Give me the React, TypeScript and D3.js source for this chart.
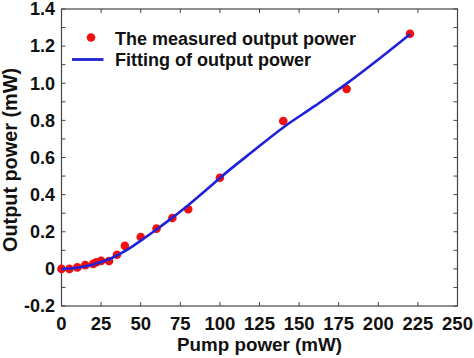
import React from "react";
import * as d3 from "d3";

const measuredX = [0, 5, 10, 15, 20, 22, 25, 30, 35, 40, 50, 60, 70, 80, 100, 140, 180, 220];
const measuredY = [0, 0, 0.008, 0.02, 0.027, 0.036, 0.043, 0.042, 0.076, 0.124, 0.172, 0.217, 0.274, 0.321, 0.491, 0.797, 0.969, 1.267];

const fitX = [0, 10, 15, 20, 25, 30, 35, 40, 50, 60, 70, 80, 90, 100, 120, 140, 160, 180, 200, 220];
const fitY = [0, 0.006, 0.014, 0.024, 0.037, 0.052, 0.072, 0.095, 0.152, 0.212, 0.276, 0.343, 0.415, 0.49, 0.628, 0.762, 0.878, 0.998, 1.128, 1.264];

const xTicks = [0, 25, 50, 75, 100, 125, 150, 175, 200, 225, 250];
const yTicks = [-0.2, 0, 0.2, 0.4, 0.6, 0.8, 1.0, 1.2, 1.4];
const yMinorTicks = [-0.2, -0.1, 0, 0.1, 0.2, 0.3, 0.4, 0.5, 0.6, 0.7, 0.8, 0.9, 1.0, 1.1, 1.2, 1.3, 1.4];

const legendLabels = ["The measured output power", "Fitting of output power"];
const xTitle = "Pump power (mW)";
const yTitle = "Output power (mW)";

export default function App() {
  const W = 474, H = 358;
  const L = 61.5, R = 457.5, T = 9, B = 306;
  const x = d3.scaleLinear().domain([0, 250]).range([L, R]);
  const y = d3.scaleLinear().domain([-0.2, 1.4]).range([B, T]);
  const line = d3.line<number>().x((_, i) => x(fitX[i])).y((d) => y(d)).curve(d3.curveMonotoneX);
  const font = "'Liberation Sans', Arial, sans-serif";
  const fmt = (v: number) => (Math.abs(v) < 1e-9 ? "0" : v.toFixed(1));
  const axisColor = "#444";
  const tl = 4;
  return (
    <svg width={W} height={H} style={{ position: "absolute", left: 0, top: 0, background: "#fff" }}>
      <rect x={0} y={0} width={W} height={H} fill="#fff" />
      {xTicks.map((t) => (
        <g key={"xt" + t}>
          <line x1={x(t)} x2={x(t)} y1={B} y2={B - tl} stroke={axisColor} strokeWidth={1} />
          <line x1={x(t)} x2={x(t)} y1={T} y2={T + tl} stroke={axisColor} strokeWidth={1} />
          <text x={x(t)} y={329.5} textAnchor="middle" fontFamily={font} fontWeight="bold" fontSize={18.5} fill="#111">
            {t}
          </text>
        </g>
      ))}
      {yMinorTicks.map((t) => (
        <g key={"ym" + t}>
          <line x1={L} x2={L + tl} y1={y(t)} y2={y(t)} stroke={axisColor} strokeWidth={1} />
          <line x1={R} x2={R - tl} y1={y(t)} y2={y(t)} stroke={axisColor} strokeWidth={1} />
        </g>
      ))}
      {yTicks.map((t) => (
        <text key={"yl" + t} x={55} y={y(t) + 6.3} textAnchor="end" fontFamily={font} fontWeight="bold" fontSize={18} fill="#111">
          {fmt(t)}
        </text>
      ))}
      <rect x={L} y={T} width={R - L} height={B - T} fill="none" stroke={axisColor} strokeWidth={1.2} />
      {measuredX.map((mx, i) => (
        <circle key={"p" + i} cx={x(mx)} cy={y(measuredY[i])} r={4.3} fill="#f01010" />
      ))}
      <path d={line(fitY) || ""} fill="none" stroke="#1f22d8" strokeWidth={2.6} />
      <circle cx={91} cy={37.5} r={4.3} fill="#f01010" />
      <text x={115} y={45} fontFamily={font} fontWeight="bold" fontSize={18} fill="#111">
        {legendLabels[0]}
      </text>
      <line x1={72} x2={103.5} y1={59.5} y2={59.5} stroke="#1f22d8" strokeWidth={2.8} />
      <text x={115} y={66} fontFamily={font} fontWeight="bold" fontSize={18} fill="#111">
        {legendLabels[1]}
      </text>
      <text x={259.5} y={351} textAnchor="middle" fontFamily={font} fontWeight="bold" fontSize={19} textLength={165} lengthAdjust="spacingAndGlyphs" fill="#111">
        {xTitle}
      </text>
      <text transform={`translate(17,160) rotate(-90)`} textAnchor="middle" fontFamily={font} fontWeight="bold" fontSize={19.5} textLength={184} lengthAdjust="spacingAndGlyphs" fill="#111">
        {yTitle}
      </text>
    </svg>
  );
}
